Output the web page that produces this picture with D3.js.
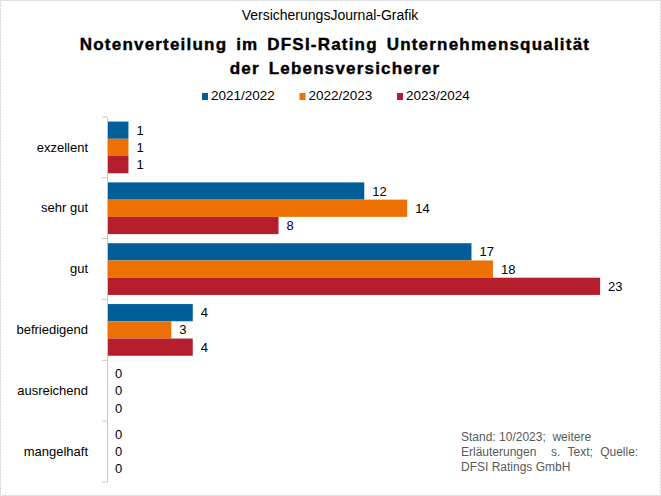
<!DOCTYPE html>
<html>
<head>
<meta charset="utf-8">
<script src="https://cdn.jsdelivr.net/npm/d3@7"></script>
<style>
  body { margin: 0; background: #fff; }
  svg { font-family: "Liberation Sans", Arial, sans-serif; }
</style>
</head>
<body>
<div id="chart"></div>
<script>
// data
const categories = ["exzellent", "sehr gut", "gut", "befriedigend", "ausreichend", "mangelhaft"];
const seriesNames = ["2021/2022", "2022/2023", "2023/2024"];
const values2122 = [1, 12, 17, 4, 0, 0];
const values2223 = [1, 14, 18, 3, 0, 0];
const values2324 = [1, 8, 23, 4, 0, 0];
const colors = ["#005f98", "#ed7002", "#b51e2c"];

const W = 661, H = 496;
const margin = {top: 117, left: 107, bottom: 14, right: 18};

const data = categories.map((c, i) => ({
  cat: c,
  vals: [values2122[i], values2223[i], values2324[i]]
}));

const svg = d3.select("#chart").append("svg")
  .attr("width", W).attr("height", H);

// outer border
svg.append("rect")
  .attr("x", 0.5).attr("y", 0.5)
  .attr("width", W - 1).attr("height", H - 1)
  .attr("fill", "#fff")
  .attr("stroke", "#d0d0d0")
  .attr("stroke-dasharray", "2,1");

// header texts
svg.append("text")
  .attr("x", 330).attr("y", 20)
  .attr("text-anchor", "middle")
  .attr("font-size", 14).attr("fill", "#000")
  .text("VersicherungsJournal-Grafik");

const titleLines = ["Notenverteilung im DFSI-Rating Unternehmensqualität", "der Lebensversicherer"];
svg.selectAll(".title")
  .data(titleLines)
  .enter().append("text")
    .attr("class", "title")
    .attr("x", 335)
    .attr("y", (d, i) => 50 + i * 24)
    .attr("text-anchor", "middle")
    .attr("font-size", 17).attr("font-weight", "bold")
    .attr("letter-spacing", 1.2)
    .attr("word-spacing", 3)
    .attr("stroke", "#000").attr("stroke-width", 0.4)
    .text(d => d);

// legend
const legend = svg.selectAll(".legend")
  .data(seriesNames)
  .enter().append("g")
    .attr("class", "legend")
    .attr("transform", (d, i) => `translate(${202 + i * 97.5},0)`);
legend.append("rect")
  .attr("x", 0).attr("y", 93)
  .attr("width", 6).attr("height", 7)
  .attr("fill", (d, i) => colors[i]);
legend.append("text")
  .attr("x", 9).attr("y", 100)
  .attr("font-size", 13.5)
  .text(d => d);

// scales
const x = d3.scaleLinear()
  .domain([0, 25])
  .range([margin.left, margin.left + 536]);

const y0 = d3.scaleBand()
  .domain(categories)
  .range([margin.top, H - margin.bottom]);

const step = y0.bandwidth();
const gap = step * 0.075;
const y1 = d3.scaleBand()
  .domain(d3.range(seriesNames.length))
  .range([gap, step - gap]);

// bars
const groups = svg.selectAll(".grp")
  .data(data)
  .enter().append("g")
    .attr("class", "grp")
    .attr("transform", d => `translate(0,${y0(d.cat)})`);

groups.selectAll("rect")
  .data(d => d.vals)
  .enter().append("rect")
    .attr("x", x(0))
    .attr("y", (v, i) => y1(i))
    .attr("width", v => x(v) - x(0))
    .attr("height", y1.bandwidth())
    .attr("fill", (v, i) => colors[i]);

groups.selectAll(".lbl")
  .data(d => d.vals)
  .enter().append("text")
    .attr("class", "lbl")
    .attr("x", v => x(v) + 8)
    .attr("y", (v, i) => y1(i) + y1.bandwidth() / 2)
    .attr("dy", "0.35em")
    .attr("font-size", 13)
    .text(v => v);

// category axis
const yAxis = svg.append("g")
  .attr("transform", `translate(${margin.left},0)`)
  .call(d3.axisLeft(y0).tickSize(0).tickPadding(19));
yAxis.select(".domain").attr("stroke", "#c8c8c8");
yAxis.selectAll("text").attr("font-size", 13).attr("font-family", "Liberation Sans, Arial, sans-serif").attr("fill", "#000");

// boundary ticks between categories
const bounds = categories.map(c => y0(c)).concat([y0.range()[1]]);
yAxis.selectAll(".bt")
  .data(bounds)
  .enter().append("line")
    .attr("class", "bt")
    .attr("x1", -5).attr("x2", 0)
    .attr("y1", d => d).attr("y2", d => d)
    .attr("stroke", "#c8c8c8");

// footnote
const noteLines = ["Stand: 10/2023;  weitere", "Erläuterungen  s. Text; Quelle:", "DFSI Ratings GmbH"];
const noteSpacing = [0, 4, 0];
svg.selectAll(".note")
  .data(noteLines)
  .enter().append("text")
    .attr("class", "note")
    .attr("x", 461)
    .attr("y", (d, i) => 441 + i * 15)
    .attr("font-size", 12)
    .attr("fill", "#595959")
    .attr("word-spacing", (d, i) => noteSpacing[i])
    .style("white-space", "pre")
    .text(d => d);
</script>
</body>
</html>
